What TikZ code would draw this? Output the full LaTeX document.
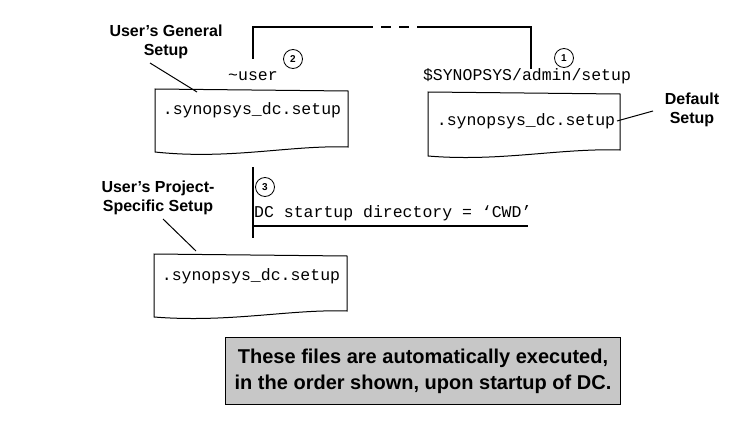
\documentclass[tikz,border=0pt]{standalone}
\usepackage{fontspec}
\setmainfont{Liberation Sans}
\newfontfamily\monof{Liberation Mono}
\begin{document}
\begin{tikzpicture}[x=1pt,y=-1pt,
  lbl/.style={font=\bfseries\fontsize{16}{19}\selectfont,align=center,inner sep=0},
  mono/.style={font=\monof\fontsize{16.5}{18}\selectfont,inner sep=0},
  num/.style={circle,draw,thick,minimum size=19pt,inner sep=0,font=\bfseries\fontsize{10}{11}\selectfont},
  ln/.style={line width=1.6pt},
  doc/.style={draw,line width=1pt}]
\useasboundingbox (0,0) rectangle (749,425);
% bracket
\coordinate (bl) at (253,59); \coordinate (br) at (531,69);
\draw[ln] (bl) |- (373,27); \draw[ln] (381,27)--(391,27); \draw[ln] (399,27)--(409,27);
\draw[ln] (417,27) -| (br);
\node[num] (n2) at (293,59) {2};
\node[num] (n1) at (564,58) {1};
\node[mono] (u) at (253,76) {\char`~user};
\node[mono] (s) at (527,76) {\$SYNOPSYS/admin/setup};
% docs
\draw[doc] (155,89) -- (348,91) -- (348,147) .. controls (290,145) and (230,160) .. (155,152) -- cycle;
\node[mono] (d1) at (252,110) {.synopsys\_dc.setup};
\draw[doc] (428,92) -- (620,94) -- (620,150) .. controls (560,148) and (500,162) .. (428,156) -- cycle;
\node[mono] (d2) at (526,121) {.synopsys\_dc.setup};
\draw[doc] (154,254) -- (347,256) -- (347,311) .. controls (290,309) and (230,323) .. (154,317) -- cycle;
\node[mono] (d3) at (251,276) {.synopsys\_dc.setup};
% labels
\node[lbl] (g) at (166,42) {User’s General\\Setup};
\draw[line width=1pt] (150,63) -- (197,92);
\node[lbl] (df) at (692,110) {Default\\Setup};
\draw[line width=1pt] (653,111) -- (617,121);
\node[lbl] (p) at (158,198) {User’s Project-\\Specific Setup};
\draw[line width=1pt] (163,219) -- (196,251);
% CWD
\draw[ln] (253,167) -- (253,238);
\node[num] (n3) at (265,187) {3};
\node[mono,anchor=west] (c) at (254,213) {DC startup directory = ‘CWD’};
\draw[line width=1.2pt] (253,226) -- (528,226);
% note
\node[draw,line width=1.2pt,fill=black!22,minimum width=395pt,minimum height=67pt,align=center,
  font=\bfseries\fontsize{20}{26}\selectfont] (note) at (423,371) {These files are automatically executed,\\in the order shown, upon startup of DC.};
\end{tikzpicture}
\end{document}
